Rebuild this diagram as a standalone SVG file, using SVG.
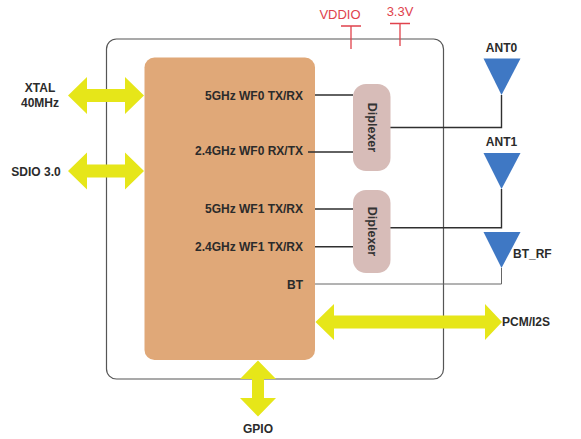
<svg xmlns="http://www.w3.org/2000/svg" width="581" height="439" viewBox="0 0 581 439">
<style>
text{font-family:"Liberation Sans",Arial,sans-serif;font-size:12px;font-weight:bold;fill:#2b2b2b}
.m{text-anchor:middle}
.e{text-anchor:end}
.red{font-weight:normal;font-size:13px;fill:#e0424c}
.arrow{fill:#e6e619}
.ant{fill:#3f78c4}
.dip{fill:#d7bcb8}
.dt{font-size:12.5px;fill:#333}
.w{fill:none;stroke:#2f2f2f;stroke-width:1.4}
.thin{fill:none;stroke:#666;stroke-width:1}
.pow{fill:none;stroke:#e0424c;stroke-width:1.3}
</style>
<rect width="581" height="439" fill="#fff"/>
<g id="frame"><rect x="106.5" y="39" width="337" height="340" rx="10" fill="none" stroke="#555" stroke-width="1.2"/></g>
<g id="soc"><rect x="144.5" y="57.5" width="170.5" height="302.5" rx="10" fill="#e0a878"/>
<text class="e" x="303" y="99.500">5GHz WF0 TX/RX</text>
<text class="e" x="303" y="155">2.4GHz WF0 RX/TX</text>
<text class="e" x="303" y="212.500">5GHz WF1 TX/RX</text>
<text class="e" x="303" y="250.500">2.4GHz WF1 TX/RX</text>
<text class="e" x="303" y="288.500">BT</text></g>
<g id="connectors">
<path class="w" d="M315 95H353M308 152H353M315 209H353M315 246.700H353"/>
<path class="w" d="M390 127.500H501.500V95M390 227.700H501.500V189"/>
<path class="thin" d="M315 284H501.500V268"/>
</g>
<g id="diplexer0"><rect class="dip" x="353" y="84" width="37.500" height="87" rx="13"/><text class="dt m" transform="translate(367.500 127.500) rotate(90)">Diplexer</text></g>
<g id="diplexer1"><rect class="dip" x="353" y="190" width="37.500" height="83" rx="13"/><text class="dt m" transform="translate(367.500 231.500) rotate(90)">Diplexer</text></g>
<g id="ant0"><polygon class="ant" points="483.500,58.500 520.500,58.500 501.500,95"/><text class="m" x="501.500" y="52">ANT0</text></g>
<g id="ant1"><polygon class="ant" points="483.500,153 520.500,153 501.500,189"/><text class="m" x="501.500" y="146">ANT1</text></g>
<g id="bt_rf"><polygon class="ant" points="483.500,232 520.500,232 501.500,268"/><text x="513" y="258">BT_RF</text></g>
<g id="vddio"><path class="pow" d="M341 26H361M351 26V49"/><text class="red m" x="340" y="19">VDDIO</text></g>
<g id="v33"><path class="pow" d="M390 23.500H410M400 23.500V46"/><text class="red m" x="400" y="16">3.3V</text></g>
<g id="xtal"><polygon class="arrow" points="68,95.500 87,77 87,89 125,89 125,77 144,95.500 125,114 125,102 87,102 87,114"/><text class="m" x="40" y="92">XTAL</text><text class="m" x="40" y="107">40MHz</text></g>
<g id="sdio"><polygon class="arrow" points="68,171 87,152.500 87,164.500 125,164.500 125,152.500 144,171 125,189.500 125,177.500 87,177.500 87,189.500"/><text class="m" x="36" y="176">SDIO 3.0</text></g>
<g id="pcm"><polygon class="arrow" points="315.500,322 334,304 334,315.500 485,315.500 485,304 502,322 485,340 485,328.500 334,328.500 334,340"/><text x="502" y="326">PCM/I2S</text></g>
<g id="gpio"><polygon class="arrow" points="258,360.500 276,379 264,379 264,398 276,398 258,416.500 240,398 252,398 252,379 240,379"/><text class="m" x="258" y="433">GPIO</text></g>
</svg>
